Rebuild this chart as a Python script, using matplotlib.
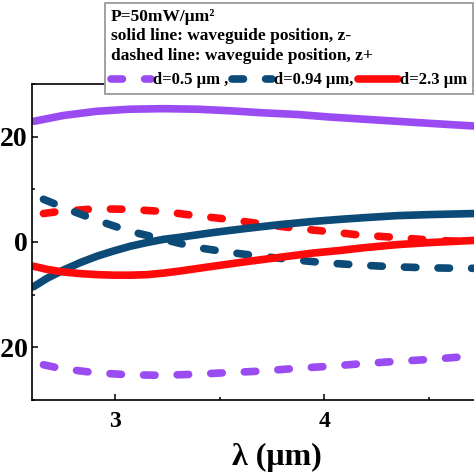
import numpy as np
import matplotlib
matplotlib.use('Agg')
import matplotlib.pyplot as plt
from matplotlib.ticker import MultipleLocator

plt.rcParams['font.family'] = ['Liberation Serif', 'DejaVu Serif']
plt.rcParams['font.weight'] = 'bold'
plt.rcParams['axes.unicode_minus'] = False

# Data
# d = 0.5 um
x_p_solid = [2.61, 2.75, 2.91, 3.07, 3.23, 3.39, 3.55, 3.71, 3.87, 4.03, 4.19, 4.35, 4.51, 4.72]
y_p_solid = [22.9, 24.0, 24.8, 25.2, 25.3, 25.2, 24.9, 24.5, 24.2, 23.7, 23.3, 22.9, 22.5, 22.0]
x_p_dash = [2.656, 2.737, 2.90, 3.06, 3.22, 3.38, 3.54, 3.70, 3.86, 4.02, 4.18, 4.33, 4.50, 4.66, 4.72]
y_p_dash = [-23.3, -24.0, -24.8, -25.2, -25.3, -25.1, -24.8, -24.5, -24.0, -23.6, -23.1, -22.7, -22.3, -21.8, -21.6]

# d = 0.94 um
x_n_solid = [2.608, 2.673, 2.753, 2.833, 2.912, 2.992, 3.072, 3.152, 3.231, 3.311, 3.469, 3.632,
             3.789, 3.947, 4.077, 4.187, 4.349, 4.507, 4.72]
y_n_solid = [-8.5, -6.9, -5.3, -3.9, -2.7, -1.7, -0.8, -0.1, 0.5, 0.9, 1.8, 2.6,
             3.3, 3.9, 4.3, 4.6, 5.0, 5.2, 5.4]
x_n_dash = [2.656, 2.737, 2.785, 2.928, 3.072, 3.230, 3.383, 3.531, 3.694, 3.856, 4.019, 4.177,
            4.330, 4.493, 4.651, 4.72]
y_n_dash = [8.1, 6.8, 6.0, 3.9, 2.0, 0.5, -1.0, -1.9, -2.7, -3.4, -4.0, -4.4,
            -4.7, -4.9, -5.0, -5.0]

# d = 2.3 um
x_r_solid = [2.608, 2.673, 2.753, 2.833, 2.912, 2.992, 3.072, 3.152, 3.231, 3.311, 3.469, 3.632,
             3.789, 3.947, 4.077, 4.187, 4.349, 4.507, 4.72]
y_r_solid = [-4.6, -5.2, -5.7, -6.0, -6.2, -6.3, -6.3, -6.2, -5.9, -5.5, -4.6, -3.7,
             -2.9, -2.1, -1.6, -1.1, -0.5, -0.1, 0.3]
x_r_dash = [2.656, 2.713, 2.904, 3.062, 3.225, 3.383, 3.541, 3.703, 3.861, 4.014, 4.172, 4.330,
            4.493, 4.651, 4.72]
y_r_dash = [5.4, 5.7, 6.3, 6.2, 5.8, 5.0, 4.3, 3.4, 2.6, 2.0, 1.3, 0.9,
            0.4, 0.1, -0.1]

purple = '#9a4cf2'
navy = '#0c4a77'
red = '#ff0a0a'
lw = 5.5
dash = (0, (1.5, 2.9))

fig = plt.figure(figsize=(4.74, 4.74), dpi=100)
ax = fig.add_axes([0.067, 0.156, 1.036, 0.667])

ax.plot(x_p_solid, y_p_solid, color=purple, lw=lw, solid_capstyle='round')
lp, = ax.plot(x_p_dash, y_p_dash, color=purple, lw=lw, linestyle=dash, dash_capstyle='round')
ax.plot(x_r_dash, y_r_dash, color=red, lw=lw, linestyle=dash, dash_capstyle='round')
ln, = ax.plot(x_n_dash, y_n_dash, color=navy, lw=lw, linestyle=dash, dash_capstyle='round')
ax.plot(x_n_solid, y_n_solid, color=navy, lw=lw, solid_capstyle='round')
lr, = ax.plot(x_r_solid, y_r_solid, color=red, lw=lw, solid_capstyle='round')

ax.set_xlim(2.6, 4.95)
ax.set_ylim(-30, 30)
ax.xaxis.set_major_locator(MultipleLocator(1))
ax.xaxis.set_minor_locator(MultipleLocator(0.5))
ax.yaxis.set_major_locator(MultipleLocator(20))
ax.yaxis.set_minor_locator(MultipleLocator(10))
ax.tick_params(which='both', direction='in', width=1.1)
ax.tick_params(which='major', length=4)
ax.tick_params(which='minor', length=2.5)
ax.tick_params(axis='x', which='major', labelsize=17, pad=8)
ax.tick_params(axis='y', which='major', labelsize=20, pad=3)
for s in ax.spines.values():
    s.set_linewidth(1.2)

ax.set_xlabel('λ (μm)', fontsize=23, fontweight='bold')
ax.xaxis.set_label_coords((277 - 31.5) / (1.036 * 474), -0.135)

leg = ax.legend([lp, ln, lr], ['d=0.5 μm ,', 'd=0.94 μm,', 'd=2.3 μm'],
                title='P=50mW/μm²\nsolid line: waveguide position, z-\ndashed line: waveguide position, z+',
                ncol=3, loc='upper left', bbox_to_anchor=(105 / 474, 1 - 3 / 474),
                bbox_transform=fig.transFigure, fontsize=12, title_fontsize=12.5,
                handlelength=2.4, handletextpad=0.12, columnspacing=0.25,
                borderpad=0.35, borderaxespad=0, fancybox=False, framealpha=1,
                edgecolor='#9a9a9a', alignment='left')
leg.get_frame().set_linewidth(1.3)
leg.get_title().set_fontweight('bold')
leg.get_title().set_linespacing(1.3)
leg.set_zorder(10)

fig.savefig('out.png', dpi=100)
